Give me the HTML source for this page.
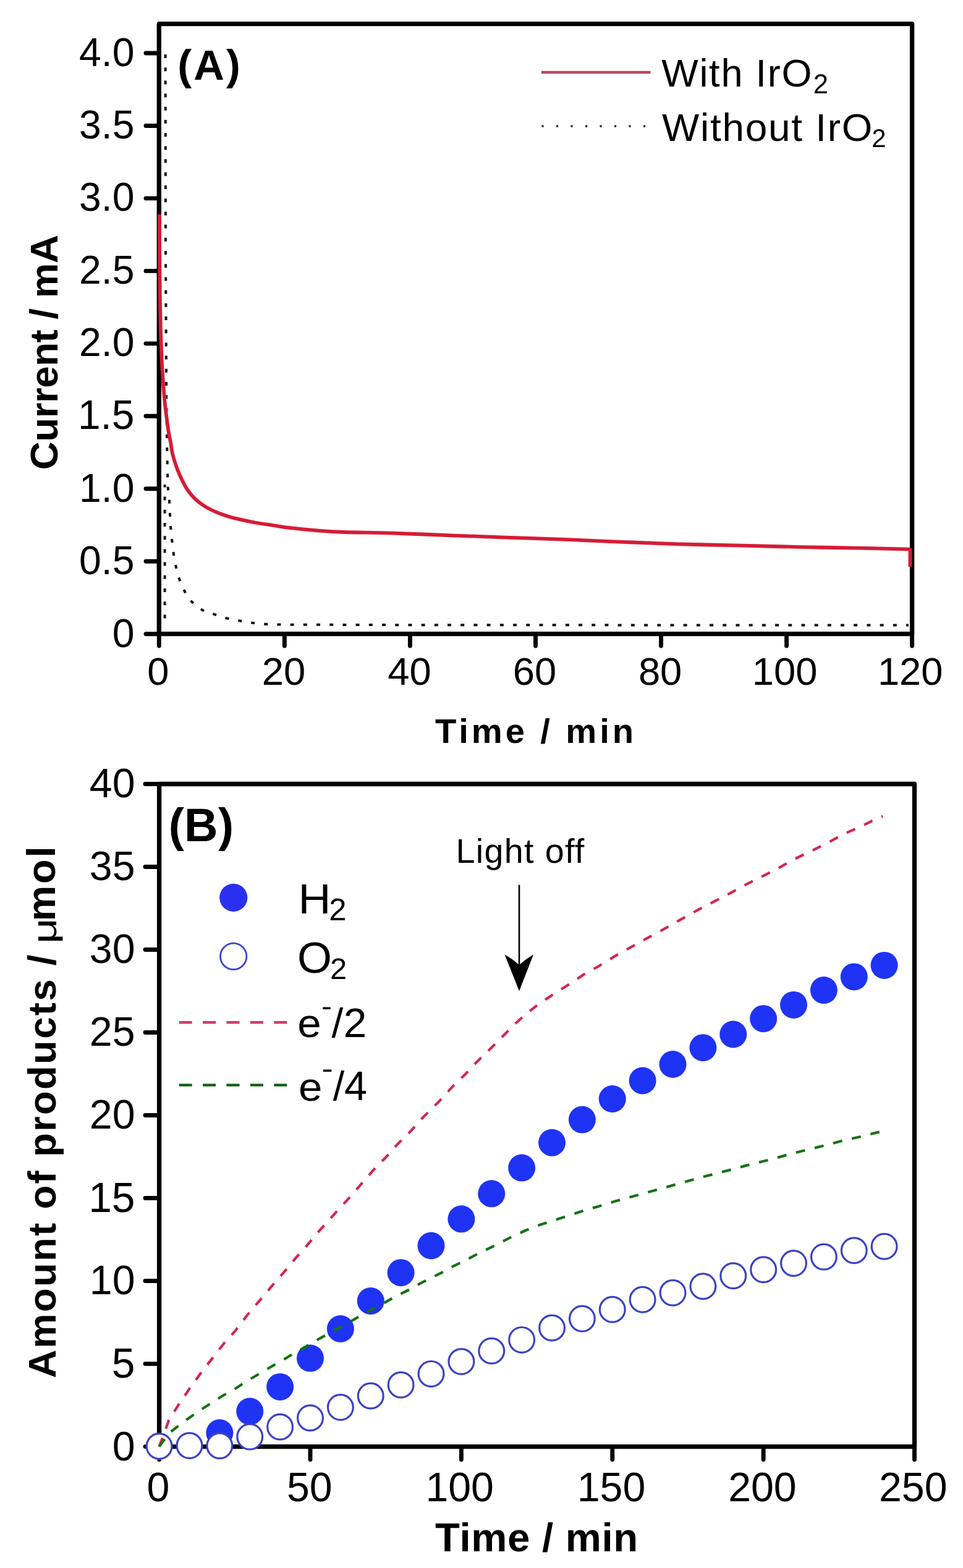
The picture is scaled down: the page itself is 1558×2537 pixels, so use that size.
<!DOCTYPE html>
<html><head><meta charset="utf-8"><title>Figure</title>
<style>
html,body{margin:0;padding:0;background:#fff;}
svg{display:block;}
text{font-family:'Liberation Sans', Arial, Helvetica, sans-serif;fill:#000;}
</style></head><body>
<svg width="1558" height="2537" viewBox="0 0 1558 2537">
<rect width="1558" height="2537" fill="#fff"/>
<rect x="257.3" y="38.7" width="1218.3" height="987" fill="none" stroke="#000" stroke-width="7.3" stroke-linejoin="round"/>
<path d="M236,1025.7H257.3M236,908.24H257.3M236,790.78H257.3M236,673.31H257.3M236,555.85H257.3M236,438.39H257.3M236,320.92H257.3M236,203.46H257.3M236,86H257.3M257.3,1025.7V1045M460.35,1025.7V1045M663.4,1025.7V1045M866.45,1025.7V1045M1069.5,1025.7V1045M1272.55,1025.7V1045M1475.6,1025.7V1045" stroke="#000" stroke-width="6.9" stroke-linecap="round" fill="none"/>
<rect x="257.6" y="1268.5" width="1221.9" height="1072.1" fill="none" stroke="#000" stroke-width="7.3" stroke-linejoin="round"/>
<path d="M235,2340.6H257.6M235,2206.59H257.6M235,2072.57H257.6M235,1938.56H257.6M235,1804.55H257.6M235,1670.54H257.6M235,1536.53H257.6M235,1402.51H257.6M235,1268.5H257.6M257.6,2340.6V2361.5M501.98,2340.6V2361.5M746.36,2340.6V2361.5M990.74,2340.6V2361.5M1235.12,2340.6V2361.5M1479.5,2340.6V2361.5" stroke="#000" stroke-width="6.9" stroke-linecap="round" fill="none"/>
<polyline points="266.6,1000.4 266.6,784" fill="none" stroke="#111" stroke-width="4" stroke-dasharray="6 15.2"/>
<polyline points="267.6,88 268,400 269.2,650 270.5,740 271.7,788.4 273.9,809.5 274.9,830.7 276,851.9 278.1,873 280.2,892 283.4,911.1 287.6,930.2 294,947.1 300.3,959.8 306.7,970.4 318.3,981 331,989.4 345.8,993.7 364.9,1000 392.4,1005.3 419.9,1009.5 449.5,1010.6 700,1011.3 1470,1011.5" fill="none" stroke="#111" stroke-width="4" stroke-dasharray="6 15.2"/>
<path d="M258,347C258.03,359.17 258.07,397.83 258.2,420C258.33,442.17 258.53,461.67 258.8,480C259.07,498.33 259.43,515.83 259.8,530C260.17,544.17 260.62,555 261,565C261.38,575 261.65,581.67 262.1,590C262.55,598.33 263.12,606.67 263.7,615C264.28,623.33 264.95,632.5 265.6,640C266.25,647.5 266.95,654.17 267.6,660C268.25,665.83 268.73,669.07 269.5,675C270.27,680.93 271.08,688.63 272.2,695.6C273.32,702.57 275.13,710.68 276.2,716.8C277.27,722.92 277.23,726.42 278.6,732.3C279.97,738.18 282.12,745.48 284.4,752.1C286.68,758.72 289.22,765.38 292.3,772C295.38,778.62 298.93,785.85 302.9,791.8C306.87,797.75 311.25,803.07 316.1,807.7C320.95,812.33 326.27,816.08 332,819.6C337.73,823.12 344.33,826.17 350.5,828.8C356.67,831.43 362.6,833.42 369,835.4C375.4,837.38 381.18,838.93 388.9,840.7C396.62,842.47 406.48,844.45 415.3,846C424.12,847.55 432.68,848.63 441.8,850C450.92,851.37 457.78,852.77 470,854.2C482.22,855.63 500.52,857.47 515.1,858.6C529.68,859.73 537.52,860.33 557.5,861C577.48,861.67 606.17,861.72 635,862.6C663.83,863.48 698.72,865.1 730.5,866.3C762.28,867.5 793.95,868.65 825.7,869.8C857.45,870.95 891.95,872.07 921,873.2C950.05,874.33 970.33,875.42 1000,876.6C1029.67,877.78 1066,879.28 1099,880.3C1132,881.32 1164.9,881.9 1198,882.7C1231.1,883.5 1264.47,884.4 1297.6,885.1C1330.73,885.8 1368.13,886.32 1396.8,886.9C1425.47,887.48 1457.47,888.32 1469.6,888.6 L1472.5,889 L1472.5,917" fill="none" stroke="#d61c36" stroke-width="5.8" stroke-linejoin="round"/>
<path d="M875.9,117H1052.5" stroke="#bf4660" stroke-width="4.4"/>
<path d="M876.4,204.1H1044" stroke="#222" stroke-width="3.2" stroke-dasharray="3.2 20.3"/>
<g fill="#1f33f4"><circle cx="355.35" cy="2318.3" r="22"/><circle cx="404.23" cy="2283.6" r="22"/><circle cx="453.1" cy="2243.9" r="22"/><circle cx="501.98" cy="2197.6" r="22"/><circle cx="550.86" cy="2150" r="22"/><circle cx="599.73" cy="2105" r="22"/><circle cx="648.61" cy="2059.2" r="22"/><circle cx="697.48" cy="2015.5" r="22"/><circle cx="746.36" cy="1972.3" r="22"/><circle cx="795.24" cy="1931.3" r="22"/><circle cx="844.11" cy="1889.6" r="22"/><circle cx="892.99" cy="1848.8" r="22"/><circle cx="941.86" cy="1811.6" r="22"/><circle cx="990.74" cy="1778" r="22"/><circle cx="1039.62" cy="1748.5" r="22"/><circle cx="1088.49" cy="1722" r="22"/><circle cx="1137.37" cy="1695.2" r="22"/><circle cx="1186.24" cy="1673.5" r="22"/><circle cx="1235.12" cy="1648.2" r="22"/><circle cx="1284" cy="1625.9" r="22"/><circle cx="1332.87" cy="1602.1" r="22"/><circle cx="1381.75" cy="1580.4" r="22"/><circle cx="1430.62" cy="1561.9" r="22"/></g>
<g fill="#fff" stroke="#3b42c4" stroke-width="3.2"><circle cx="257.6" cy="2340" r="20.4"/><circle cx="306.48" cy="2339" r="20.4"/><circle cx="355.35" cy="2339.2" r="20.4"/><circle cx="404.23" cy="2324.6" r="20.4"/><circle cx="453.1" cy="2308.7" r="20.4"/><circle cx="501.98" cy="2294.2" r="20.4"/><circle cx="550.86" cy="2277" r="20.4"/><circle cx="599.73" cy="2258.5" r="20.4"/><circle cx="648.61" cy="2240.8" r="20.4"/><circle cx="697.48" cy="2222.9" r="20.4"/><circle cx="746.36" cy="2203" r="20.4"/><circle cx="795.24" cy="2185.7" r="20.4"/><circle cx="844.11" cy="2167.9" r="20.4"/><circle cx="892.99" cy="2148.5" r="20.4"/><circle cx="941.86" cy="2133.6" r="20.4"/><circle cx="990.74" cy="2118.75" r="20.4"/><circle cx="1039.62" cy="2102.7" r="20.4"/><circle cx="1088.49" cy="2091.7" r="20.4"/><circle cx="1137.37" cy="2081.25" r="20.4"/><circle cx="1186.24" cy="2064.3" r="20.4"/><circle cx="1235.12" cy="2054.3" r="20.4"/><circle cx="1284" cy="2044" r="20.4"/><circle cx="1332.87" cy="2033.6" r="20.4"/><circle cx="1381.75" cy="2023.2" r="20.4"/><circle cx="1430.62" cy="2016.7" r="20.4"/></g>
<polyline points="257.6,2340.6 273.1,2298.1 289.3,2272.2 307.3,2245.8 327.2,2218.5 347.1,2193.1 361.5,2174.5 380.9,2152.8 400.4,2127.3 421.7,2102.3 442,2078.2 461,2056.5 479.1,2034.7 495.3,2016.7 512.5,1996.1 531.2,1975.2 549.4,1955 568.5,1934.2 586,1913.9 604.8,1892.5 625,1871.7 642.9,1851.4 662.5,1832.4 680.6,1811.6 713.7,1778.6 732.8,1757.4 752.7,1738.2 771.2,1718.4 791,1699.2 810.9,1679.4 830,1659.5 850.6,1641 872.8,1623.5 896.6,1607.7 920.4,1592.8 944.2,1576.9 969,1563 992.9,1548.1 1017.7,1534.2 1042.5,1520.4 1068.3,1506.5 1098,1489.6 1131.7,1470.8 1156.7,1457.9 1182.3,1444.6 1206.9,1431.2 1233.5,1417.9 1259.2,1404.6 1284.8,1390.2 1312.5,1376.9 1341.2,1362.5 1365.8,1349.2 1393.5,1336.9 1420.1,1323.6 1428.3,1320.5" fill="none" stroke="#d42650" stroke-width="4.2" stroke-dasharray="15 16"/>
<polyline points="257.6,2340.6 273.1,2319.35 289.3,2306.4 307.3,2293.2 327.2,2279.55 347.1,2266.85 361.5,2257.55 380.9,2246.7 400.4,2233.95 421.7,2221.45 442,2209.4 461,2198.55 479.1,2187.65 495.3,2178.65 512.5,2168.35 531.2,2157.9 549.4,2147.8 568.5,2137.4 586,2127.25 604.8,2116.55 625,2106.15 642.9,2096 662.5,2086.5 680.6,2076.1 713.7,2059.6 732.8,2049 752.7,2039.4 771.2,2029.5 791,2019.9 810.9,2010 830,2000.05 850.6,1990.8 872.8,1982.05 896.6,1974.15 920.4,1966.7 944.2,1958.75 969,1951.8 992.9,1944.35 1017.7,1937.4 1042.5,1930.5 1068.3,1923.55 1098,1915.1 1131.7,1905.7 1156.7,1899.25 1182.3,1892.6 1206.9,1885.9 1233.5,1879.25 1259.2,1872.6 1284.8,1865.4 1312.5,1858.75 1341.2,1851.55 1365.8,1844.9 1393.5,1838.75 1420.1,1832.1 1428.3,1830.55" fill="none" stroke="#137213" stroke-width="4.2" stroke-dasharray="15 16"/>
<circle cx="377.7" cy="1452.3" r="22.6" fill="#2a30f0"/>
<circle cx="377.7" cy="1547.4" r="21.2" fill="#fff" stroke="#3b42d0" stroke-width="2.8"/>
<path d="M289.7,1654.2H464.3" stroke="#cf3e68" stroke-width="4.4" stroke-dasharray="21 17.4"/>
<path d="M289.7,1755.6H464.3" stroke="#0f5f12" stroke-width="4.4" stroke-dasharray="21 17.4"/>
<path d="M840,1431.7V1566" stroke="#000" stroke-width="2.6"/>
<path d="M840,1603.6L816.5,1544.5Q830,1552 840,1561.5Q850,1552 863,1544.5Z" fill="#000"/>
<text id="ay0" x="217.5" y="1046.65" font-size="64.34" text-anchor="end">0</text>
<text id="ay1" x="217.5" y="929.19" font-size="64.34" text-anchor="end">0.5</text>
<text id="ay2" x="217.5" y="811.73" font-size="64.34" text-anchor="end">1.0</text>
<text id="ay3" x="217.5" y="693.76" font-size="65.9" text-anchor="end">1.5</text>
<text id="ay4" x="217.5" y="575.8" font-size="64.34" text-anchor="end">2.0</text>
<text id="ay5" x="217.5" y="459.34" font-size="64.34" text-anchor="end">2.5</text>
<text id="ay6" x="217.5" y="340.87" font-size="64.34" text-anchor="end">3.0</text>
<text id="ay7" x="217.5" y="224.41" font-size="64.34" text-anchor="end">3.5</text>
<text id="ay8" x="217.5" y="107.15" font-size="64.34" text-anchor="end">4.0</text>
<text id="ax0" x="255.9" y="1107.9" font-size="63.28" text-anchor="middle">0</text>
<text id="ax1" x="458.95" y="1107.9" font-size="63.28" text-anchor="middle">20</text>
<text id="ax2" x="662.5" y="1107.9" font-size="63.28" text-anchor="middle">40</text>
<text id="ax3" x="865.05" y="1107.9" font-size="63.28" text-anchor="middle">60</text>
<text id="ax4" x="1068.1" y="1107.9" font-size="63.28" text-anchor="middle">80</text>
<text id="ax5" x="1269.65" y="1107.9" font-size="63.28" text-anchor="middle">100</text>
<text id="ax6" x="1472.7" y="1107.9" font-size="63.28" text-anchor="middle">120</text>
<text id="by0" x="218.5" y="2362.5" font-size="66.27" text-anchor="end">0</text>
<text id="by1" x="218.5" y="2228.99" font-size="67.68" text-anchor="end">5</text>
<text id="by2" x="218.5" y="2094.48" font-size="66.27" text-anchor="end">10</text>
<text id="by3" x="218.5" y="1960.96" font-size="67.68" text-anchor="end">15</text>
<text id="by4" x="218.5" y="1826.45" font-size="66.27" text-anchor="end">20</text>
<text id="by5" x="218.5" y="1692.44" font-size="66.27" text-anchor="end">25</text>
<text id="by6" x="218.5" y="1558.42" font-size="66.27" text-anchor="end">30</text>
<text id="by7" x="218.5" y="1424.41" font-size="66.27" text-anchor="end">35</text>
<text id="by8" x="218.5" y="1290.4" font-size="66.27" text-anchor="end">40</text>
<text id="bx0" x="255.9" y="2428.7" font-size="66.27" text-anchor="middle">0</text>
<text id="bx1" x="500.78" y="2428.7" font-size="66.27" text-anchor="middle">50</text>
<text id="bx2" x="743.66" y="2428.7" font-size="66.27" text-anchor="middle">100</text>
<text id="bx3" x="989.04" y="2428.7" font-size="66.27" text-anchor="middle">150</text>
<text id="bx4" x="1233.42" y="2428.7" font-size="66.27" text-anchor="middle">200</text>
<text id="bx5" x="1477.3" y="2428.7" font-size="66.27" text-anchor="middle">250</text>
<text id="atx" x="864.55" y="1201.7" font-size="56.17" text-anchor="middle" font-weight="bold" textLength="320.87" lengthAdjust="spacing">Time / min</text>
<text id="btx" x="868.1" y="2510" font-size="65.29" text-anchor="middle" font-weight="bold" textLength="328.08" lengthAdjust="spacing">Time / min</text>
<text id="aty" x="92.56" y="570.1" font-size="63.8" text-anchor="middle" font-weight="bold" textLength="380.46" lengthAdjust="spacing" transform="rotate(-90 92.56 570.1)">Current / mA</text>
<text id="bty1" x="89.9" y="1887.25" font-size="63.46" text-anchor="middle" font-weight="bold" textLength="685.22" lengthAdjust="spacing" transform="rotate(-90 89.9 1887.25)">Amount of products /</text>
<text id="bty2" x="90.8" y="1506.3" font-size="55.41" text-anchor="middle" font-family="'Liberation Serif', 'Times New Roman', serif" textLength="41.12" lengthAdjust="spacingAndGlyphs" transform="rotate(-90 90.8 1506.3)">μ</text>
<text id="bty3" x="89.1" y="1429.95" font-size="64.9" text-anchor="middle" font-weight="bold" textLength="121.05" lengthAdjust="spacing" transform="rotate(-90 89.1 1429.95)">mol</text>
<text id="pa" x="338.1" y="128.6" font-size="68.7" text-anchor="middle" font-weight="bold" textLength="101.7" lengthAdjust="spacing">(A)</text>
<text id="pb" x="325.35" y="1360.5" font-size="75.42" text-anchor="middle" font-weight="bold" textLength="105.34" lengthAdjust="spacing">(B)</text>
<text id="la1" x="1191.8" y="140.4" font-size="63" text-anchor="middle" textLength="243.26" lengthAdjust="spacing">With IrO</text>
<text id="la1s" x="1327.85" y="150.6" font-size="43.58" text-anchor="middle">2</text>
<text id="la2" x="1241.2" y="228.4" font-size="63.83" text-anchor="middle" textLength="340.45" lengthAdjust="spacing">Without IrO</text>
<text id="la2s" x="1421.95" y="238" font-size="42.01" text-anchor="middle">2</text>
<text id="lbh" x="508.95" y="1477.7" font-size="68.78" text-anchor="middle" textLength="52.96" lengthAdjust="spacingAndGlyphs">H</text>
<text id="lbhs" x="546.25" y="1488.8" font-size="50.75" text-anchor="middle">2</text>
<text id="lbo" x="508.95" y="1573.6" font-size="71.26" text-anchor="middle" textLength="55.94" lengthAdjust="spacingAndGlyphs">O</text>
<text id="lbos" x="547.5" y="1583.5" font-size="48.84" text-anchor="middle">2</text>
<text id="le2e" x="500.55" y="1678.1" font-size="64.47" text-anchor="middle" textLength="38.44" lengthAdjust="spacingAndGlyphs">e</text>
<text id="le2m" x="528.55" y="1642.8" font-size="43.93" text-anchor="middle" textLength="17.05" lengthAdjust="spacingAndGlyphs">-</text>
<text id="le2d" x="564.9" y="1678.3" font-size="67.48" text-anchor="middle" textLength="56.99" lengthAdjust="spacing">/2</text>
<text id="le4e" x="502.35" y="1780.6" font-size="65.72" text-anchor="middle" textLength="38.44" lengthAdjust="spacingAndGlyphs">e</text>
<text id="le4m" x="529.7" y="1744.1" font-size="43.93" text-anchor="middle" textLength="18.31" lengthAdjust="spacingAndGlyphs">-</text>
<text id="le4d" x="566.3" y="1779.8" font-size="66.5" text-anchor="middle" textLength="55.35" lengthAdjust="spacing">/4</text>
<text id="lo" x="841.4" y="1395.9" font-size="55.66" text-anchor="middle" textLength="207.7" lengthAdjust="spacing">Light off</text>
</svg>
</body></html>
